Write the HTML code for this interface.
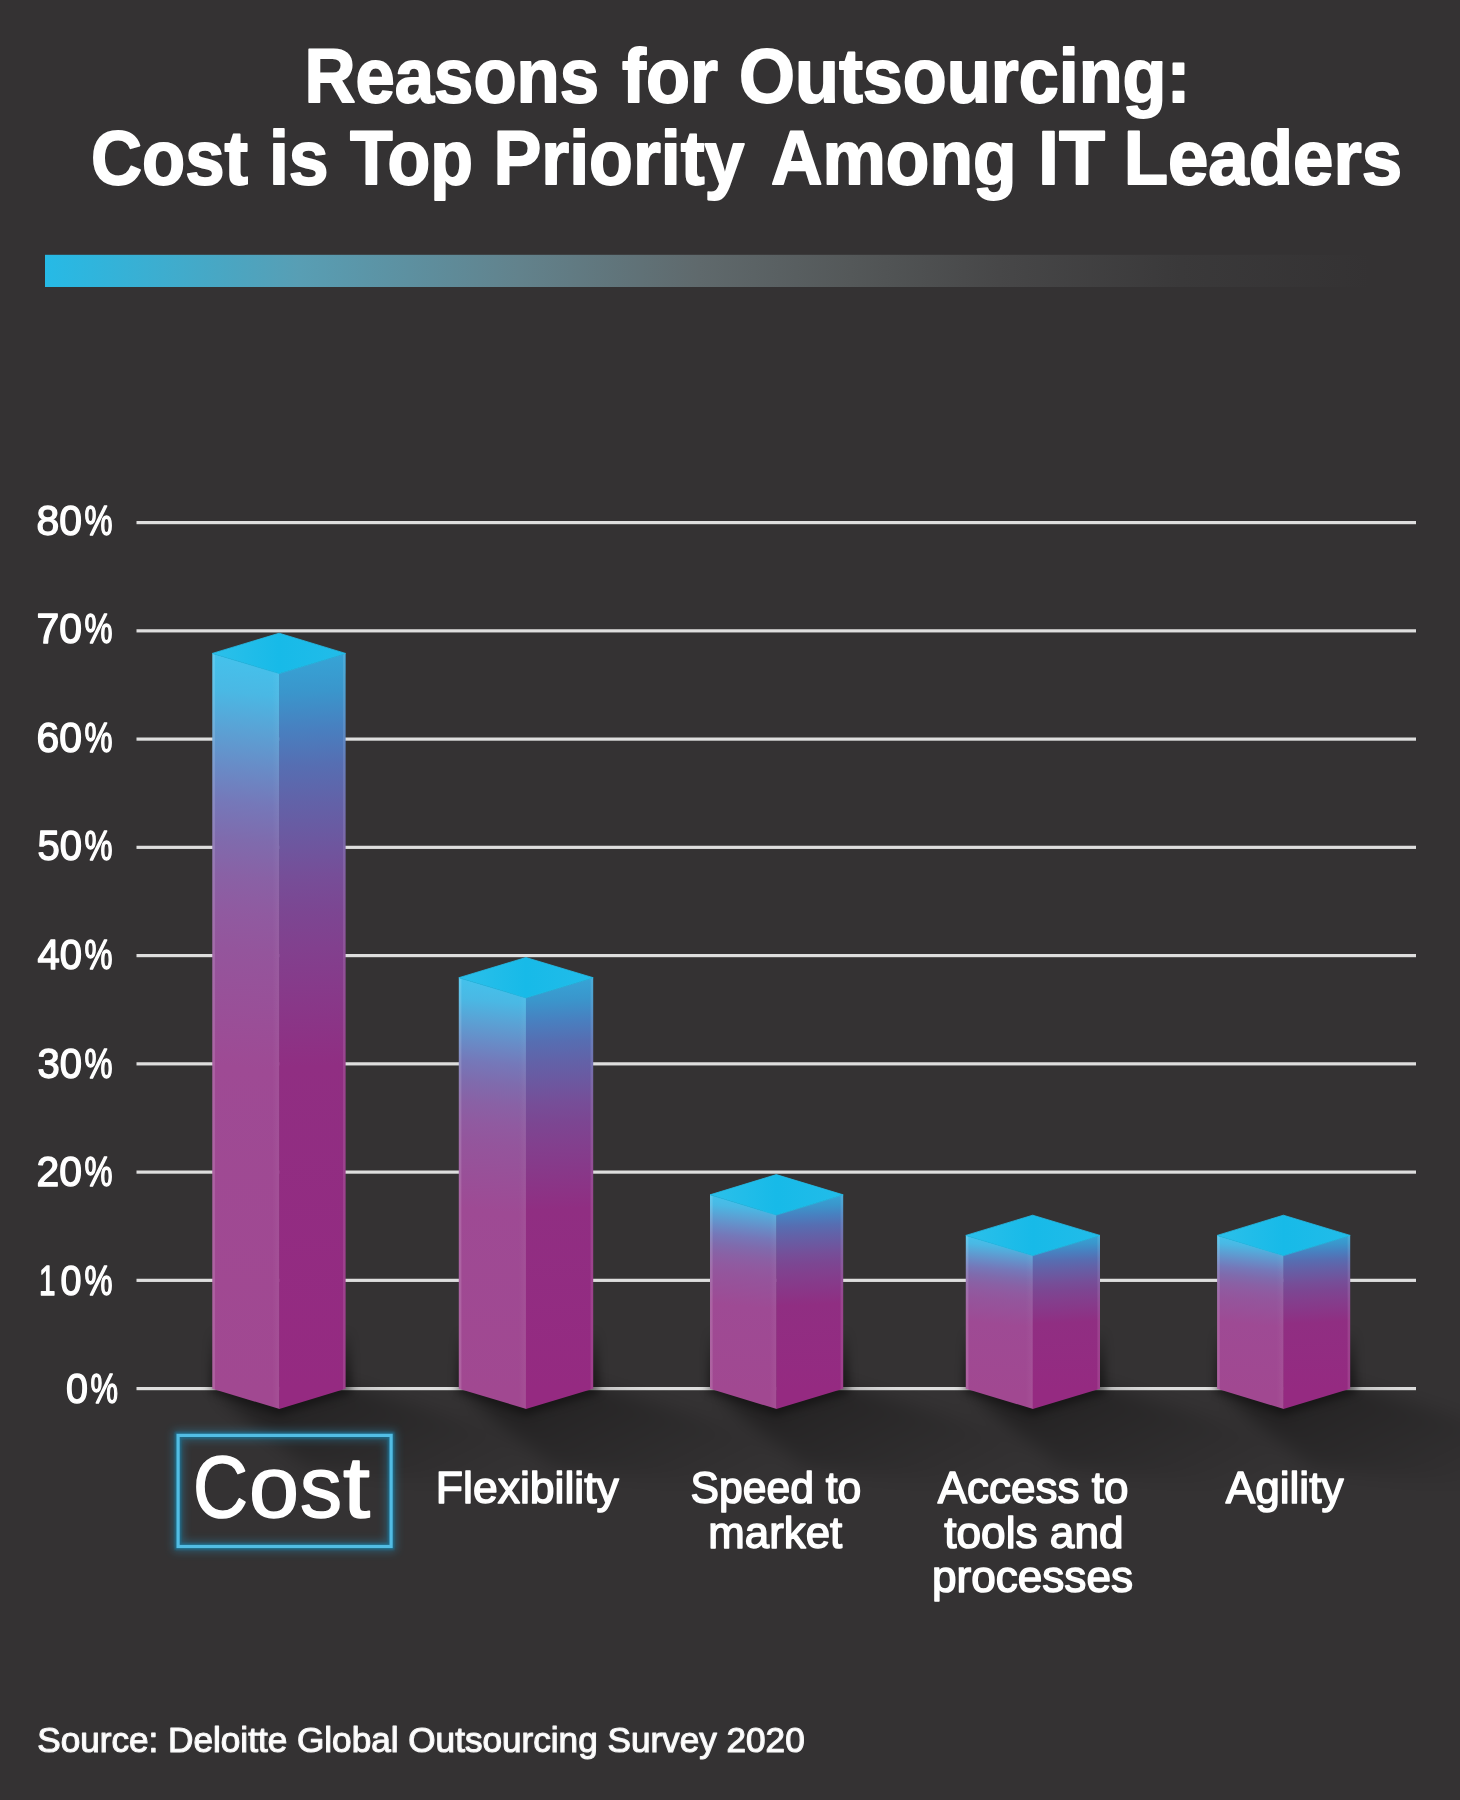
<!DOCTYPE html>
<html><head><meta charset="utf-8"><title>Reasons for Outsourcing</title>
<style>
html,body{margin:0;padding:0;background:#343233;}
body{width:1460px;height:1800px;overflow:hidden;font-family:"Liberation Sans",sans-serif;}
svg{display:block;will-change:transform}
text{font-family:"Liberation Sans",sans-serif;fill:#fff}
</style></head><body>
<svg width="1460" height="1800" viewBox="0 0 1460 1800">
<defs>
<linearGradient id="hdr" x1="0" y1="0" x2="1" y2="0">
<stop offset="0" stop-color="#26bae6"/>
<stop offset="0.192" stop-color="#589eb4"/>
<stop offset="0.358" stop-color="#62828c"/>
<stop offset="0.494" stop-color="#5f696c"/>
<stop offset="0.608" stop-color="#545859"/>
<stop offset="0.72" stop-color="#474748"/>
<stop offset="0.857" stop-color="#3a393a"/>
<stop offset="1" stop-color="#343233"/>
</linearGradient>
<linearGradient id="lf" x1="0" y1="0" x2="0" y2="1">
<stop offset="0" stop-color="#44c4ec"/>
<stop offset="0.10" stop-color="#5aa8d8"/>
<stop offset="0.19" stop-color="#727dbb"/>
<stop offset="0.27" stop-color="#8167ac"/>
<stop offset="0.38" stop-color="#92569e"/>
<stop offset="0.56" stop-color="#9e4a94"/>
<stop offset="1" stop-color="#a14891"/>
</linearGradient>
<linearGradient id="rf" x1="0" y1="0" x2="0" y2="1">
<stop offset="0" stop-color="#36a6d8"/>
<stop offset="0.10" stop-color="#4687c4"/>
<stop offset="0.19" stop-color="#5d68b0"/>
<stop offset="0.27" stop-color="#70509e"/>
<stop offset="0.38" stop-color="#833c8c"/>
<stop offset="0.56" stop-color="#902e82"/>
<stop offset="1" stop-color="#952a81"/>
</linearGradient>
<linearGradient id="sh" gradientUnits="objectBoundingBox" x1="0" y1="0" x2="1" y2="0.6">
<stop offset="0" stop-color="#000" stop-opacity="0.55"/>
<stop offset="0.35" stop-color="#000" stop-opacity="0.25"/>
<stop offset="1" stop-color="#000" stop-opacity="0"/>
</linearGradient>
<linearGradient id="hl" x1="0" y1="0" x2="1" y2="0">
<stop offset="0" stop-color="#fff" stop-opacity="0"/>
<stop offset="1" stop-color="#fff" stop-opacity="0.045"/>
</linearGradient>
<linearGradient id="tf" x1="0" y1="0" x2="1" y2="0">
<stop offset="0" stop-color="#2cc0ea"/>
<stop offset="0.5" stop-color="#17bae8"/>
<stop offset="1" stop-color="#22bce9"/>
</linearGradient>
<linearGradient id="csh" x1="0" y1="0" x2="0" y2="1">
<stop offset="0" stop-color="#000" stop-opacity="0"/>
<stop offset="0.5" stop-color="#000" stop-opacity="0.8"/>
<stop offset="1" stop-color="#000" stop-opacity="1"/>
</linearGradient>
<filter id="blur4" x="-20%" y="-40%" width="140%" height="180%"><feGaussianBlur stdDeviation="4"/></filter>
<filter id="blur8" x="-20%" y="-40%" width="140%" height="180%"><feGaussianBlur stdDeviation="9"/></filter>
<filter id="soft" x="-10%" y="-20%" width="120%" height="140%"><feGaussianBlur stdDeviation="0.8"/></filter>
<filter id="glow" x="-20%" y="-30%" width="140%" height="160%"><feGaussianBlur stdDeviation="4"/></filter>
</defs>
<rect width="1460" height="1800" fill="#343233"/>

<rect x="45" y="254.8" width="1325" height="32.2" fill="url(#hdr)"/>
<g fill="#dedede">
<rect x="136.5" y="521.00" width="1279.5" height="3.2"/>
<rect x="136.5" y="629.25" width="1279.5" height="3.2"/>
<rect x="136.5" y="737.50" width="1279.5" height="3.2"/>
<rect x="136.5" y="845.75" width="1279.5" height="3.2"/>
<rect x="136.5" y="954.00" width="1279.5" height="3.2"/>
<rect x="136.5" y="1062.25" width="1279.5" height="3.2"/>
<rect x="136.5" y="1170.50" width="1279.5" height="3.2"/>
<rect x="136.5" y="1278.75" width="1279.5" height="3.2"/>
<rect x="136.5" y="1387.00" width="1279.5" height="3.2"/>
</g>
<g filter="url(#blur8)">
<polygon points="214.3,1389.8 279.2,1409.0 345.6,1384.8 555.6,1446.3 489.2,1491.0 306.8,1466.7" fill="url(#sh)"/>
<polygon points="460.8,1389.8 525.9,1409.0 593.2,1384.8 803.2,1446.3 735.9,1491.0 553.3,1466.7" fill="url(#sh)"/>
<polygon points="712.0,1389.8 776.3,1409.0 843.2,1384.8 1053.2,1446.3 986.3,1491.0 804.5,1466.7" fill="url(#sh)"/>
<polygon points="967.8,1389.8 1032.7,1409.0 1100.0,1384.8 1310.0,1446.3 1242.7,1491.0 1060.3,1466.7" fill="url(#sh)"/>
<polygon points="1219.1,1389.8 1283.4,1409.0 1350.2,1384.8 1560.2,1446.3 1493.4,1491.0 1311.6,1466.7" fill="url(#sh)"/>
</g>
<g filter="url(#blur4)" opacity="0.5">
<polygon points="210.3,1328.8 210.3,1391.8 279.2,1415.0 351.6,1392.8 351.6,1328.8" fill="url(#csh)"/>
<polygon points="456.8,1328.8 456.8,1391.8 525.9,1415.0 599.2,1392.8 599.2,1328.8" fill="url(#csh)"/>
<polygon points="708.0,1328.8 708.0,1391.8 776.3,1415.0 849.2,1392.8 849.2,1328.8" fill="url(#csh)"/>
<polygon points="963.8,1328.8 963.8,1391.8 1032.7,1415.0 1106.0,1392.8 1106.0,1328.8" fill="url(#csh)"/>
<polygon points="1215.1,1328.8 1215.1,1391.8 1283.4,1415.0 1356.2,1392.8 1356.2,1328.8" fill="url(#csh)"/>
</g>
<linearGradient id="lf0" gradientUnits="userSpaceOnUse" x1="212.3" y1="653.4" x2="146.65" y2="1382.89"><stop offset="0" stop-color="rgb(68,194,236)"/><stop offset="0.05" stop-color="rgb(74,184,228)"/><stop offset="0.1" stop-color="rgb(90,162,213)"/><stop offset="0.15" stop-color="rgb(104,140,199)"/><stop offset="0.2" stop-color="rgb(117,120,185)"/><stop offset="0.25" stop-color="rgb(127,107,173)"/><stop offset="0.3" stop-color="rgb(137,97,165)"/><stop offset="0.35" stop-color="rgb(144,90,160)"/><stop offset="0.4" stop-color="rgb(148,85,156)"/><stop offset="0.56" stop-color="rgb(158,74,148)"/><stop offset="1" stop-color="rgb(161,72,145)"/></linearGradient>
<linearGradient id="rf0" gradientUnits="userSpaceOnUse" x1="345.6" y1="653.4" x2="374.97" y2="1387.63"><stop offset="0" stop-color="rgb(54,164,214)"/><stop offset="0.05" stop-color="rgb(58,150,204)"/><stop offset="0.1" stop-color="rgb(72,128,192)"/><stop offset="0.15" stop-color="rgb(86,110,178)"/><stop offset="0.2" stop-color="rgb(98,98,168)"/><stop offset="0.25" stop-color="rgb(108,88,160)"/><stop offset="0.3" stop-color="rgb(118,78,152)"/><stop offset="0.35" stop-color="rgb(124,70,146)"/><stop offset="0.4" stop-color="rgb(130,64,142)"/><stop offset="0.56" stop-color="rgb(144,46,130)"/><stop offset="1" stop-color="rgb(149,42,129)"/></linearGradient>
<polygon points="212.3,653.4 279.7,673.6 279.7,1409.0 212.3,1388.8" fill="url(#lf0)"/>
<polygon points="279.2,673.6 345.6,653.4 345.6,1388.8 279.2,1409.0" fill="url(#rf0)"/>
<polygon points="212.3,653.4 214.9,654.1999999999999 214.9,1389.6 212.3,1388.8" fill="#fff" opacity="0.14"/>
<polygon points="343.0,654.1999999999999 345.6,653.4 345.6,1388.8 343.0,1389.6" fill="#fff" opacity="0.10"/>
<polygon points="272.2,671.4 279.2,673.6 279.2,1409.0 272.2,1406.8" fill="url(#hl)"/>
<polygon points="212.3,653.4 279.2,633.1999999999999 345.6,653.4 279.2,673.6" fill="url(#tf)" stroke="#25bde9" stroke-width="0.8"/>
<linearGradient id="lf1" gradientUnits="userSpaceOnUse" x1="458.8" y1="977.7" x2="422.10" y2="1385.50"><stop offset="0" stop-color="rgb(68,194,236)"/><stop offset="0.05" stop-color="rgb(74,184,228)"/><stop offset="0.1" stop-color="rgb(90,162,213)"/><stop offset="0.15" stop-color="rgb(104,140,199)"/><stop offset="0.2" stop-color="rgb(117,120,185)"/><stop offset="0.25" stop-color="rgb(127,107,173)"/><stop offset="0.3" stop-color="rgb(137,97,165)"/><stop offset="0.35" stop-color="rgb(144,90,160)"/><stop offset="0.4" stop-color="rgb(148,85,156)"/><stop offset="0.56" stop-color="rgb(158,74,148)"/><stop offset="1" stop-color="rgb(161,72,145)"/></linearGradient>
<linearGradient id="rf1" gradientUnits="userSpaceOnUse" x1="593.2" y1="977.7" x2="609.62" y2="1388.14"><stop offset="0" stop-color="rgb(54,164,214)"/><stop offset="0.05" stop-color="rgb(58,150,204)"/><stop offset="0.1" stop-color="rgb(72,128,192)"/><stop offset="0.15" stop-color="rgb(86,110,178)"/><stop offset="0.2" stop-color="rgb(98,98,168)"/><stop offset="0.25" stop-color="rgb(108,88,160)"/><stop offset="0.3" stop-color="rgb(118,78,152)"/><stop offset="0.35" stop-color="rgb(124,70,146)"/><stop offset="0.4" stop-color="rgb(130,64,142)"/><stop offset="0.56" stop-color="rgb(144,46,130)"/><stop offset="1" stop-color="rgb(149,42,129)"/></linearGradient>
<polygon points="458.8,977.7 526.4,997.9000000000001 526.4,1409.0 458.8,1388.8" fill="url(#lf1)"/>
<polygon points="525.9,997.9000000000001 593.2,977.7 593.2,1388.8 525.9,1409.0" fill="url(#rf1)"/>
<polygon points="458.8,977.7 461.40000000000003,978.5 461.40000000000003,1389.6 458.8,1388.8" fill="#fff" opacity="0.14"/>
<polygon points="590.6,978.5 593.2,977.7 593.2,1388.8 590.6,1389.6" fill="#fff" opacity="0.10"/>
<polygon points="518.9,995.7 525.9,997.9000000000001 525.9,1409.0 518.9,1406.8" fill="url(#hl)"/>
<polygon points="458.8,977.7 525.9,957.5 593.2,977.7 525.9,997.9000000000001" fill="url(#tf)" stroke="#25bde9" stroke-width="0.8"/>
<linearGradient id="lf2" gradientUnits="userSpaceOnUse" x1="710.0" y1="1194.8" x2="692.68" y2="1387.24"><stop offset="0" stop-color="rgb(68,194,236)"/><stop offset="0.05" stop-color="rgb(74,184,228)"/><stop offset="0.1" stop-color="rgb(90,162,213)"/><stop offset="0.15" stop-color="rgb(104,140,199)"/><stop offset="0.2" stop-color="rgb(117,120,185)"/><stop offset="0.25" stop-color="rgb(127,107,173)"/><stop offset="0.3" stop-color="rgb(137,97,165)"/><stop offset="0.35" stop-color="rgb(144,90,160)"/><stop offset="0.4" stop-color="rgb(148,85,156)"/><stop offset="0.56" stop-color="rgb(158,74,148)"/><stop offset="1" stop-color="rgb(161,72,145)"/></linearGradient>
<linearGradient id="rf2" gradientUnits="userSpaceOnUse" x1="843.2" y1="1194.8" x2="850.95" y2="1388.49"><stop offset="0" stop-color="rgb(54,164,214)"/><stop offset="0.05" stop-color="rgb(58,150,204)"/><stop offset="0.1" stop-color="rgb(72,128,192)"/><stop offset="0.15" stop-color="rgb(86,110,178)"/><stop offset="0.2" stop-color="rgb(98,98,168)"/><stop offset="0.25" stop-color="rgb(108,88,160)"/><stop offset="0.3" stop-color="rgb(118,78,152)"/><stop offset="0.35" stop-color="rgb(124,70,146)"/><stop offset="0.4" stop-color="rgb(130,64,142)"/><stop offset="0.56" stop-color="rgb(144,46,130)"/><stop offset="1" stop-color="rgb(149,42,129)"/></linearGradient>
<polygon points="710.0,1194.8 776.8,1215.0 776.8,1409.0 710.0,1388.8" fill="url(#lf2)"/>
<polygon points="776.3,1215.0 843.2,1194.8 843.2,1388.8 776.3,1409.0" fill="url(#rf2)"/>
<polygon points="710.0,1194.8 712.6,1195.6 712.6,1389.6 710.0,1388.8" fill="#fff" opacity="0.14"/>
<polygon points="840.6,1195.6 843.2,1194.8 843.2,1388.8 840.6,1389.6" fill="#fff" opacity="0.10"/>
<polygon points="769.3,1212.8 776.3,1215.0 776.3,1409.0 769.3,1406.8" fill="url(#hl)"/>
<polygon points="710.0,1194.8 776.3,1174.6 843.2,1194.8 776.3,1215.0" fill="url(#tf)" stroke="#25bde9" stroke-width="0.8"/>
<linearGradient id="lf3" gradientUnits="userSpaceOnUse" x1="965.8" y1="1235.4" x2="952.10" y2="1387.57"><stop offset="0" stop-color="rgb(68,194,236)"/><stop offset="0.05" stop-color="rgb(74,184,228)"/><stop offset="0.1" stop-color="rgb(90,162,213)"/><stop offset="0.15" stop-color="rgb(104,140,199)"/><stop offset="0.2" stop-color="rgb(117,120,185)"/><stop offset="0.25" stop-color="rgb(127,107,173)"/><stop offset="0.3" stop-color="rgb(137,97,165)"/><stop offset="0.35" stop-color="rgb(144,90,160)"/><stop offset="0.4" stop-color="rgb(148,85,156)"/><stop offset="0.56" stop-color="rgb(158,74,148)"/><stop offset="1" stop-color="rgb(161,72,145)"/></linearGradient>
<linearGradient id="rf3" gradientUnits="userSpaceOnUse" x1="1100.0" y1="1235.4" x2="1106.13" y2="1388.55"><stop offset="0" stop-color="rgb(54,164,214)"/><stop offset="0.05" stop-color="rgb(58,150,204)"/><stop offset="0.1" stop-color="rgb(72,128,192)"/><stop offset="0.15" stop-color="rgb(86,110,178)"/><stop offset="0.2" stop-color="rgb(98,98,168)"/><stop offset="0.25" stop-color="rgb(108,88,160)"/><stop offset="0.3" stop-color="rgb(118,78,152)"/><stop offset="0.35" stop-color="rgb(124,70,146)"/><stop offset="0.4" stop-color="rgb(130,64,142)"/><stop offset="0.56" stop-color="rgb(144,46,130)"/><stop offset="1" stop-color="rgb(149,42,129)"/></linearGradient>
<polygon points="965.8,1235.4 1033.2,1255.6000000000001 1033.2,1409.0 965.8,1388.8" fill="url(#lf3)"/>
<polygon points="1032.7,1255.6000000000001 1100.0,1235.4 1100.0,1388.8 1032.7,1409.0" fill="url(#rf3)"/>
<polygon points="965.8,1235.4 968.4,1236.2 968.4,1389.6 965.8,1388.8" fill="#fff" opacity="0.14"/>
<polygon points="1097.4,1236.2 1100.0,1235.4 1100.0,1388.8 1097.4,1389.6" fill="#fff" opacity="0.10"/>
<polygon points="1025.7,1253.4 1032.7,1255.6000000000001 1032.7,1409.0 1025.7,1406.8" fill="url(#hl)"/>
<polygon points="965.8,1235.4 1032.7,1215.2 1100.0,1235.4 1032.7,1255.6000000000001" fill="url(#tf)" stroke="#25bde9" stroke-width="0.8"/>
<linearGradient id="lf4" gradientUnits="userSpaceOnUse" x1="1217.1" y1="1235.4" x2="1203.40" y2="1387.57"><stop offset="0" stop-color="rgb(68,194,236)"/><stop offset="0.05" stop-color="rgb(74,184,228)"/><stop offset="0.1" stop-color="rgb(90,162,213)"/><stop offset="0.15" stop-color="rgb(104,140,199)"/><stop offset="0.2" stop-color="rgb(117,120,185)"/><stop offset="0.25" stop-color="rgb(127,107,173)"/><stop offset="0.3" stop-color="rgb(137,97,165)"/><stop offset="0.35" stop-color="rgb(144,90,160)"/><stop offset="0.4" stop-color="rgb(148,85,156)"/><stop offset="0.56" stop-color="rgb(158,74,148)"/><stop offset="1" stop-color="rgb(161,72,145)"/></linearGradient>
<linearGradient id="rf4" gradientUnits="userSpaceOnUse" x1="1350.2" y1="1235.4" x2="1356.33" y2="1388.55"><stop offset="0" stop-color="rgb(54,164,214)"/><stop offset="0.05" stop-color="rgb(58,150,204)"/><stop offset="0.1" stop-color="rgb(72,128,192)"/><stop offset="0.15" stop-color="rgb(86,110,178)"/><stop offset="0.2" stop-color="rgb(98,98,168)"/><stop offset="0.25" stop-color="rgb(108,88,160)"/><stop offset="0.3" stop-color="rgb(118,78,152)"/><stop offset="0.35" stop-color="rgb(124,70,146)"/><stop offset="0.4" stop-color="rgb(130,64,142)"/><stop offset="0.56" stop-color="rgb(144,46,130)"/><stop offset="1" stop-color="rgb(149,42,129)"/></linearGradient>
<polygon points="1217.1,1235.4 1283.9,1255.6000000000001 1283.9,1409.0 1217.1,1388.8" fill="url(#lf4)"/>
<polygon points="1283.4,1255.6000000000001 1350.2,1235.4 1350.2,1388.8 1283.4,1409.0" fill="url(#rf4)"/>
<polygon points="1217.1,1235.4 1219.6999999999998,1236.2 1219.6999999999998,1389.6 1217.1,1388.8" fill="#fff" opacity="0.14"/>
<polygon points="1347.6000000000001,1236.2 1350.2,1235.4 1350.2,1388.8 1347.6000000000001,1389.6" fill="#fff" opacity="0.10"/>
<polygon points="1276.4,1253.4 1283.4,1255.6000000000001 1283.4,1409.0 1276.4,1406.8" fill="url(#hl)"/>
<polygon points="1217.1,1235.4 1283.4,1215.2 1350.2,1235.4 1283.4,1255.6000000000001" fill="url(#tf)" stroke="#25bde9" stroke-width="0.8"/>
<rect x="178.1" y="1435.4" width="213" height="111.1" fill="none" stroke="#2b8fb8" stroke-width="10" opacity="0.42" filter="url(#glow)"/>
<rect x="178.1" y="1435.4" width="213" height="111.1" fill="none" stroke="#1f6f90" stroke-width="6.4" opacity="0.85" filter="url(#soft)"/>
<rect x="178.1" y="1435.4" width="213" height="111.1" fill="none" stroke="#52bde4" stroke-width="3.2"/>
<text id="t1a" x="304.50" y="101.7" textLength="294.50" lengthAdjust="spacingAndGlyphs" font-weight="bold" font-size="76" stroke="#fff" stroke-width="1.8" stroke-linejoin="round">Reasons</text>
<text id="t1b" x="622.00" y="101.7" textLength="96.00" lengthAdjust="spacingAndGlyphs" font-weight="bold" font-size="76" stroke="#fff" stroke-width="1.8" stroke-linejoin="round">for</text>
<text id="t1c" x="739.00" y="101.7" textLength="451.50" lengthAdjust="spacingAndGlyphs" font-weight="bold" font-size="76" stroke="#fff" stroke-width="1.8" stroke-linejoin="round">Outsourcing:</text>
<text id="t2a" x="91.00" y="184.4" textLength="157.00" lengthAdjust="spacingAndGlyphs" font-weight="bold" font-size="76" stroke="#fff" stroke-width="1.8" stroke-linejoin="round">Cost</text>
<text id="t2b" x="269.00" y="184.4" textLength="59.60" lengthAdjust="spacingAndGlyphs" font-weight="bold" font-size="76" stroke="#fff" stroke-width="1.8" stroke-linejoin="round">is</text>
<text id="t2c" x="350.00" y="184.4" textLength="123.00" lengthAdjust="spacingAndGlyphs" font-weight="bold" font-size="76" stroke="#fff" stroke-width="1.8" stroke-linejoin="round">Top</text>
<text id="t2d" x="493.50" y="184.4" textLength="250.90" lengthAdjust="spacingAndGlyphs" font-weight="bold" font-size="76" stroke="#fff" stroke-width="1.8" stroke-linejoin="round">Priority</text>
<text id="t2e" x="771.00" y="184.4" textLength="245.50" lengthAdjust="spacingAndGlyphs" font-weight="bold" font-size="76" stroke="#fff" stroke-width="1.8" stroke-linejoin="round">Among</text>
<text id="t2f" x="1038.00" y="184.4" textLength="67.00" lengthAdjust="spacingAndGlyphs" font-weight="bold" font-size="76" stroke="#fff" stroke-width="1.8" stroke-linejoin="round">IT</text>
<text id="t2g" x="1123.70" y="184.4" textLength="278.30" lengthAdjust="spacingAndGlyphs" font-weight="bold" font-size="76" stroke="#fff" stroke-width="1.8" stroke-linejoin="round">Leaders</text>
<text id="yl0d" x="36.50" y="534.8" textLength="45.50" lengthAdjust="spacingAndGlyphs" font-size="42.6" stroke="#fff" stroke-width="1.4" stroke-linejoin="round">80</text>
<text id="yl0p" x="84.50" y="534.8" textLength="28.00" lengthAdjust="spacingAndGlyphs" font-size="42.6" stroke="#fff" stroke-width="1.4" stroke-linejoin="round">%</text>
<text id="yl1d" x="36.50" y="643.35" textLength="45.50" lengthAdjust="spacingAndGlyphs" font-size="42.6" stroke="#fff" stroke-width="1.4" stroke-linejoin="round">70</text>
<text id="yl1p" x="84.50" y="643.35" textLength="28.00" lengthAdjust="spacingAndGlyphs" font-size="42.6" stroke="#fff" stroke-width="1.4" stroke-linejoin="round">%</text>
<text id="yl2d" x="36.50" y="751.9" textLength="45.50" lengthAdjust="spacingAndGlyphs" font-size="42.6" stroke="#fff" stroke-width="1.4" stroke-linejoin="round">60</text>
<text id="yl2p" x="84.50" y="751.9" textLength="28.00" lengthAdjust="spacingAndGlyphs" font-size="42.6" stroke="#fff" stroke-width="1.4" stroke-linejoin="round">%</text>
<text id="yl3d" x="37.50" y="860.45" textLength="44.50" lengthAdjust="spacingAndGlyphs" font-size="42.6" stroke="#fff" stroke-width="1.4" stroke-linejoin="round">50</text>
<text id="yl3p" x="84.50" y="860.45" textLength="28.00" lengthAdjust="spacingAndGlyphs" font-size="42.6" stroke="#fff" stroke-width="1.4" stroke-linejoin="round">%</text>
<text id="yl4d" x="37.50" y="969.0" textLength="44.50" lengthAdjust="spacingAndGlyphs" font-size="42.6" stroke="#fff" stroke-width="1.4" stroke-linejoin="round">40</text>
<text id="yl4p" x="84.50" y="969.0" textLength="28.00" lengthAdjust="spacingAndGlyphs" font-size="42.6" stroke="#fff" stroke-width="1.4" stroke-linejoin="round">%</text>
<text id="yl5d" x="37.50" y="1077.55" textLength="44.50" lengthAdjust="spacingAndGlyphs" font-size="42.6" stroke="#fff" stroke-width="1.4" stroke-linejoin="round">30</text>
<text id="yl5p" x="84.50" y="1077.55" textLength="28.00" lengthAdjust="spacingAndGlyphs" font-size="42.6" stroke="#fff" stroke-width="1.4" stroke-linejoin="round">%</text>
<text id="yl6d" x="36.50" y="1186.1" textLength="45.50" lengthAdjust="spacingAndGlyphs" font-size="42.6" stroke="#fff" stroke-width="1.4" stroke-linejoin="round">20</text>
<text id="yl6p" x="84.50" y="1186.1" textLength="28.00" lengthAdjust="spacingAndGlyphs" font-size="42.6" stroke="#fff" stroke-width="1.4" stroke-linejoin="round">%</text>
<text id="yl7a" x="39.00" y="1294.7" textLength="16.50" lengthAdjust="spacingAndGlyphs" font-size="42.6" stroke="#fff" stroke-width="1.4" stroke-linejoin="round">1</text>
<text id="yl7d" x="60.50" y="1294.7" textLength="21.00" lengthAdjust="spacingAndGlyphs" font-size="42.6" stroke="#fff" stroke-width="1.4" stroke-linejoin="round">0</text>
<text id="yl7p" x="84.50" y="1294.7" textLength="28.00" lengthAdjust="spacingAndGlyphs" font-size="42.6" stroke="#fff" stroke-width="1.4" stroke-linejoin="round">%</text>
<text id="yl8d" x="66.00" y="1403.2" textLength="22.00" lengthAdjust="spacingAndGlyphs" font-size="42.6" stroke="#fff" stroke-width="1.4" stroke-linejoin="round">0</text>
<text id="yl8p" x="90.50" y="1403.2" textLength="27.50" lengthAdjust="spacingAndGlyphs" font-size="42.6" stroke="#fff" stroke-width="1.4" stroke-linejoin="round">%</text>
<text id="costC" x="193.00" y="1516.5" textLength="55.00" lengthAdjust="spacingAndGlyphs" font-size="87.6" stroke="#fff" stroke-width="1.6" stroke-linejoin="round">C</text>
<text id="costo" x="249.00" y="1516.5" textLength="50.00" lengthAdjust="spacingAndGlyphs" font-size="87.6" stroke="#fff" stroke-width="1.6" stroke-linejoin="round">o</text>
<text id="costs" x="300.00" y="1516.5" textLength="42.00" lengthAdjust="spacingAndGlyphs" font-size="87.6" stroke="#fff" stroke-width="1.6" stroke-linejoin="round">s</text>
<text id="costt" x="343.00" y="1516.5" textLength="27.00" lengthAdjust="spacingAndGlyphs" font-size="87.6" stroke="#fff" stroke-width="1.6" stroke-linejoin="round">t</text>
<text id="flex" x="435.80" y="1503.3" textLength="183.10" lengthAdjust="spacingAndGlyphs" font-size="44.2" stroke="#fff" stroke-width="1.5" stroke-linejoin="round">Flexibility</text>
<text id="sp1" x="690.50" y="1503.3" textLength="170.80" lengthAdjust="spacingAndGlyphs" font-size="44.2" stroke="#fff" stroke-width="1.5" stroke-linejoin="round">Speed to</text>
<text id="sp2" x="708.30" y="1547.8" textLength="133.90" lengthAdjust="spacingAndGlyphs" font-size="44.2" stroke="#fff" stroke-width="1.5" stroke-linejoin="round">market</text>
<text id="ac1" x="937.70" y="1503.3" textLength="190.80" lengthAdjust="spacingAndGlyphs" font-size="44.2" stroke="#fff" stroke-width="1.5" stroke-linejoin="round">Access to</text>
<text id="ac2" x="944.20" y="1547.8" textLength="179.40" lengthAdjust="spacingAndGlyphs" font-size="44.2" stroke="#fff" stroke-width="1.5" stroke-linejoin="round">tools and</text>
<text id="ac3" x="932.00" y="1592.3" textLength="201.00" lengthAdjust="spacingAndGlyphs" font-size="44.2" stroke="#fff" stroke-width="1.5" stroke-linejoin="round">processes</text>
<text id="agi" x="1225.70" y="1503.3" textLength="117.80" lengthAdjust="spacingAndGlyphs" font-size="44.2" stroke="#fff" stroke-width="1.5" stroke-linejoin="round">Agility</text>
<text id="src" x="37.30" y="1752" textLength="767.40" lengthAdjust="spacingAndGlyphs" font-size="35" stroke="#f4f4f4" stroke-width="1.2" stroke-linejoin="round" fill="#f4f4f4">Source: Deloitte Global Outsourcing Survey 2020</text>
</svg></body></html>
